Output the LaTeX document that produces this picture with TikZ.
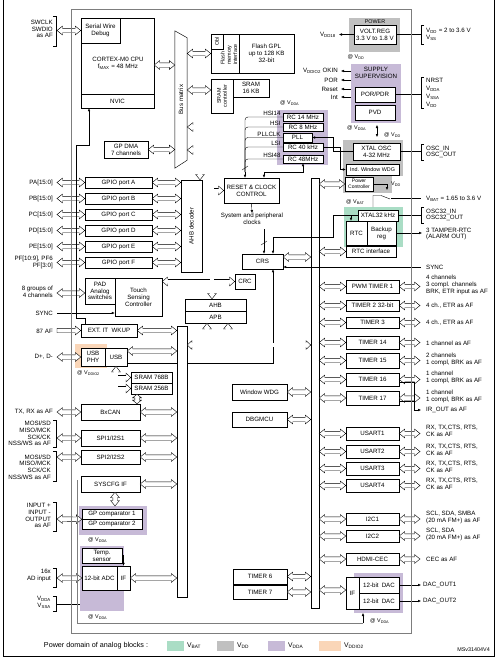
\documentclass[tikz,border=0pt]{standalone}
\usepackage{fontspec}
\setmainfont{Liberation Sans}
\usetikzlibrary{positioning,calc,arrows.meta}

\definecolor{vbat}{RGB}{170,221,197}
\definecolor{vdd}{RGB}{192,192,192}
\definecolor{vdda}{RGB}{199,186,215}
\definecolor{vddio}{RGB}{250,214,184}
\definecolor{chipline}{RGB}{125,125,125}

\newcommand{\busS}{2.2pt}
\newcommand{\busW}{4.4pt}
\newcommand{\busL}{5.5pt}
\newcommand{\Vs}[1]{V\textsubscript{#1}}

\tikzset{
blk/.style={draw, fill=white, inner sep=0pt, line width=.45pt, align=center},
pin/.style={anchor=east, inner sep=0pt, align=right},
pinr/.style={anchor=west, inner sep=0pt, align=left},
note/.style={anchor=west, inner sep=0pt, font=\fontsize{5.4}{6}\selectfont},
sm/.style={font=\fontsize{5.4}{6.2}\selectfont},
arr/.style={line width=.4pt, -{Latex[length=3pt,width=2.6pt]}},
arr2/.style={line width=.4pt, {Latex[length=3pt,width=2.6pt]}-{Latex[length=3pt,width=2.6pt]}},
dline/.style={draw=black, line width=.4pt, double=white, double distance=4pt},
dbus/.style={draw=black, fill=white, line width=.4pt, to path={
  let \p1=($(\tikztostart)!\busL!(\tikztotarget)$),
      \p2=($(\tikztotarget)!\busL!(\tikztostart)$) in
  -- ($(\p1)!\busW!90:(\tikztotarget)$) -- ($(\p1)!\busS!90:(\tikztotarget)$)
  -- ($(\p2)!\busS!-90:(\tikztostart)$) -- ($(\p2)!\busW!-90:(\tikztostart)$)
  -- (\tikztotarget)
  -- ($(\p2)!\busW!90:(\tikztostart)$) -- ($(\p2)!\busS!90:(\tikztostart)$)
  -- ($(\p1)!\busS!-90:(\tikztotarget)$) -- ($(\p1)!\busW!-90:(\tikztotarget)$)
  -- cycle}},
sbus/.style={draw=black, fill=white, line width=.4pt, to path={
  let \p2=($(\tikztotarget)!\busL!(\tikztostart)$) in
  -- ($(\tikztostart)!\busS!90:(\tikztotarget)$)
  -- ($(\p2)!\busS!-90:(\tikztostart)$) -- ($(\p2)!\busW!-90:(\tikztostart)$)
  -- (\tikztotarget)
  -- ($(\p2)!\busW!90:(\tikztostart)$) -- ($(\p2)!\busS!90:(\tikztostart)$)
  -- ($(\tikztostart)!\busS!-90:(\tikztotarget)$) -- cycle}},
bushead/.style={draw=black, fill=white, line width=.4pt, to path={
  ($(\tikztostart)!\busS!90:(\tikztotarget)$) -- ($(\tikztostart)!\busW!90:(\tikztotarget)$)
  -- (\tikztotarget)
  -- ($(\tikztostart)!\busW!-90:(\tikztotarget)$) -- ($(\tikztostart)!\busS!-90:(\tikztotarget)$)}}
}

\begin{document}
\begin{tikzpicture}[x=1pt, y=-1pt, font=\fontsize{6.2}{6.8}\selectfont,
  wh/.style 2 args={minimum width=#1pt, minimum height=#2pt}]
\useasboundingbox (0,0) rectangle (499,662);

% power domains
\fill[vdd] (349,18) rectangle (400,52);
\fill[vdd] (343,140) rectangle (403,176);
\fill[vdd] (343,176) rectangle (392,193);
\fill[vdda] (351,64) rectangle (401,123);
\fill[vdda] (277,110) rectangle (328,165);
\fill[vbat] (344,207) rectangle (403,247);
\fill[vddio] (75,344) rectangle (107,368);
\fill[vdda] (79,506) rectangle (147,535);
\fill[vdda] (80,546) rectangle (124,611);
\fill[vdda] (354,573) rectangle (403,613);

% core, bus matrix and memories
\node[blk, wh={73}{76}] (cpu) at (117.5,56) {};
\node[blk, wh={39}{25}] (swd) at (100.5,30.5) {Serial Wire\\Debug};
\node[align=center, inner sep=0pt] (cputxt) at (118,63.5) {CORTEX-M0 CPU\\f\textsubscript{MAX} = 48 MHz};
\node[blk, wh={73}{14}] (nvic) at (117.5,101) {NVIC};
\node[blk, wh={44}{17}] (dma) at (126,149.5) {GP DMA\\7 channels};

\node[inner sep=0pt, wh={12}{137}] (bm) at (181,99.5) {};
\draw[fill=white, line width=.45pt] (bm.north west) -- ([yshift=-7pt]bm.north east)
  -- ([yshift=8pt]bm.south east) -- (bm.south west) -- cycle;
\node[rotate=90] at (bm) {Bus matrix};

\node[blk, wh={28}{39}] (fif) at (225,53.5) {};
\node[blk, wh={12}{15}] (obl) at (217,41.5) {};
\node[rotate=90, sm] at (obl) {Obl};
\node[rotate=90, sm, align=left] at (229,54.5) {Flash\\memory\\interface};
\node[blk, wh={55}{39}] (flash) at (266.5,53.5) {Flash GPL\\up to 128 KB\\32-bit};
\node[blk, wh={22}{34}] (sramc) at (222,96) {};
\node[rotate=90, sm, align=center] at (sramc) {SRAM\\controller};
\node[blk, wh={36}{18}] (sram) at (251,88) {SRAM\\16 KB};

\draw[dbus] ([yshift=-9pt]cpu.east) to ([yshift=-9pt]cpu.east -| bm.west);
\draw[dbus] (dma.east) to (dma.east -| bm.west);
\draw[dbus] (bm.east |- fif.west) to (fif.west);
\draw[dbus] ([yshift=6pt]bm.east |- sramc.west) to ([yshift=6pt]sramc.west);

% AHB side
\node[blk, wh={21}{92}] (ahbdec) at (191.5,226) {};
\node[rotate=90] at (ahbdec) {AHB decoder};
\node[blk, wh={55}{25}] (rcc) at (251.5,190.5) {RESET \& CLOCK\\CONTROL};
\node[align=center, inner sep=0pt] (clk) at (252,219) {System and peripheral\\clocks};
\node[blk, wh={41}{15}] (crs) at (262.5,261.5) {CRS};
\node[blk, wh={20}{15}] (crc) at (245,281.5) {CRC};
\node[blk, wh={61}{12}] (ahb) at (215.5,305) {AHB};
\node[blk, wh={61}{12}] (apb) at (215.5,317) {APB};

% clock sources
\node[blk, wh={40}{8}] (rc14) at (303,117) {RC 14 MHz};
\node[blk, wh={40}{8}] (rc8) at (303,127) {RC 8 MHz};
\node[blk, wh={29}{9}] (pll) at (297.5,137.5) {PLL};
\node[blk, wh={40}{8}] (rc40) at (303,147) {RC 40 kHz};
\node[blk, wh={40}{8}] (rc48) at (303,159) {RC 48MHz};
\node[note] at (280,103) {@ \Vs{DDA}};
\foreach \b/\t in {rc14/HSI14, rc8/HSI, pll/PLLCLK, rc40/LSI, rc48/HSI48}{
  \draw[rounded corners=3pt] (\b.west) -| (245,172);
  \node[anchor=south east, inner sep=0pt] at ([xshift=-2pt, yshift=.8pt]\b.west) {\t};
}
\draw[arr] (245,172) -- ([xshift=-6.5pt]rcc.north);
\draw (242,170) -- (248,166);
\draw[arr2] (rc48.south) -- (303,172) -| ([xshift=12.5pt]rcc.north);
\draw[arr] (rcc.south) -- (clk.north);

% power, supervision, oscillators
\node[blk, wh={42}{19}] (vreg) at (375,34.5) {VOLT.REG\\3.3 V to 1.8 V};
\node[inner sep=0pt, sm] at (375,21.5) {POWER};
\node[note, anchor=center] at (356,57) {@ \Vs{DD}};
\node[pin] (vdd18) at (336,34.5) {\Vs{DD18}};
\draw[arr] (vreg.west) -- ([xshift=3pt]vdd18.east);
\draw (vreg.east) -- (421,34.5);
\node[pinr] at (426,34) {\Vs{DD} = 2 to 3.6 V\\\Vs{SS}};

\node[align=center, inner sep=0pt] at (376,72.5) {SUPPLY\\SUPERVISION};
\node[blk, wh={40}{15}] (por) at (375,94.5) {POR/PDR};
\node[blk, wh={40}{15}] (pvd) at (375,112.5) {PVD};
\coordinate (supv) at (351,64);
\foreach \yc/\t in {71/\Vs{DDIO2} OKIN, 80/POR, 89/Reset, 97/Int}{
  \draw[arr] (supv |- 0,\yc) -- (341,\yc);
  \node[pin] at (338,\yc) {\t};
}
\draw (por.east) -- (421,94.5);
\node[pinr, font=\fontsize{6.2}{8}\selectfont] at (426,93) {NRST\\\Vs{DDA}\\\Vs{SSA}\\\Vs{DD}};
\node[note] at (347,128) {@ \Vs{DDA}};
\draw[arr2] (377,125) -- (377,137);
\node[note] at (384,135) {@ \Vs{DD}};

\node[blk, wh={47}{17}] (xtalosc) at (376.5,151.5) {XTAL OSC\\4-32 MHz};
\draw (xtalosc.east) -- (421,151.5);
\node[pinr] at (426,152) {OSC\_IN\\OSC\_OUT};
\node[blk, wh={53}{11}, sm] (iwdg) at (372.5,169.5) {Ind. Window WDG};
\node[blk, wh={28}{14}, font=\fontsize{5}{5.6}\selectfont] (pwrctl) at (359,184) {Power\\Controller};
\draw[arr] (rc40.east) -- (340,147) |- (iwdg.west);
\draw[arr] (xtalosc.west) -- (333,151.5) |- (pll.east);

\draw[arr] (pwrctl.east) -| (387,190);
\node[note] at (391,184) {\Vs{DD}};
\node[note] at (346,202) {@ \Vs{BAT}};
\draw (373,207) -- (373,195.5) -- (381,195.5) -- (390,199);
\draw (391,198.5) -- (421,198.5);
\node[pinr] at (426,198.5) {\Vs{BAT} = 1.65 to 3.6 V};

\node[blk, wh={40}{11}] (xtal32) at (378,215.5) {XTAL32 kHz};
\node[blk, wh={21}{24}] (rtc) at (356.5,233) {RTC};
\node[blk, wh={29}{24}] (bkp) at (381.5,233) {Backup\\reg};
\node[blk, wh={50}{11}] (rtcif) at (371,251.5) {RTC interface};
\draw (xtal32.east) -- (421,215.5);
\node[pinr] at (426,215) {OSC32\_IN\\OSC32\_OUT};
\draw[arr] (bkp.east) -- (422,233);
\node[pinr] at (426,234) {3 TAMPER-RTC\\(ALARM OUT)};
\draw[arr] (xtal32.west) -| ([xshift=-5.5pt]rtc.north);

% left peripherals
\node[blk, wh={30}{26}] (pad) at (100,291) {PAD\\Analog\\switches};
\node[blk, wh={47}{38}] (tsc) at (138.5,297) {Touch\\Sensing\\Controller};
\node[blk, wh={56}{13}] (exti) at (109,330.5) {EXT. IT\ \ WKUP};
\node[blk, wh={24}{18}] (usbphy) at (93,357) {USB\\PHY};
\node[blk, wh={22}{18}] (usb) at (116,357) {USB};
\node[blk, wh={41}{11}] (sramusb) at (151.5,377.5) {SRAM 768B};
\node[blk, wh={41}{11}] (sramcan) at (151.5,388.5) {SRAM 256B};
\node[blk, wh={59}{16}] (can) at (110.5,412) {BxCAN};
\node[blk, wh={59}{16}] (spia) at (110.5,438) {SPI1/I2S1};
\node[blk, wh={59}{14}] (spib) at (110.5,457) {SPI2/I2S2};
\node[blk, wh={59}{16}] (syscfg) at (110.5,484) {SYSCFG IF};
\node[blk, wh={60}{10}] (compa) at (112,514) {GP comparator 1};
\node[blk, wh={60}{10}] (compb) at (112,524) {GP comparator 2};
\node[blk, wh={40}{15}] (temp) at (102,555.5) {Temp.\\sensor};
\node[blk, wh={35}{24}] (adc) at (99.5,578) {12-bit ADC};
\node[blk, wh={13}{24}] (adcif) at (123.5,578) {IF};
\node[note] at (77,373) {@ \Vs{DDIO2}};
\node[note] at (88,540) {@ \Vs{DDA}};
\node[note] at (88,617) {@ \Vs{DDA}};

% USB start of frame to CRS, under the bus
\draw[arr] ([yshift=-6pt]usb.east) -| ([xshift=10.5pt]crs.south);

% buses
\node[blk, wh={10}{271}] (lbar) at (182,461.5) {};
\node[blk, wh={8}{430}] (rbar) at (315,393) {};

\foreach \g/\yc in {A/182.5, B/198.5, C/214.5, D/230.5, E/246.5, F/262.5}{
  \node[blk, wh={67}{11}] (gpio\g) at (118.5,\yc) {GPIO port \g};
  \draw[dbus] (57,\yc) to (gpio\g.west);
  \draw[dbus] (gpio\g.east) to (gpio\g.east -| ahbdec.west);
}
\foreach \g/\yc in {A/182.5, B/198.5, C/214.5, D/230.5, E/246.5}
  \node[pin] at (53,\yc) {P\g[15:0]};
\node[pin] at (53,262.5) {PF[10:9], PF6\\PF[3:0]};

\draw[dline] (193,127) -| (200,174.5);
\draw[bushead] (193,127) to (bm.east |- 0,127);
\draw[bushead] (200,174.5) to ([xshift=8.5pt]ahbdec.north);
\draw[dline] (193,150) -| (212,293.5) (212,190.5) -- (218.5,190.5)
  (212,281.5) -- (167.5,281.5) (212,281.5) -- (229.5,281.5);
\draw[bushead] (193,150) to (bm.east |- 0,150);
\draw[bushead] (212,293.5) to ([xshift=-3.5pt]ahb.north);
\draw[bushead] (218.5,190.5) to (rcc.west);
\draw[bushead] (167.5,281.5) to (tsc.east |- 0,281.5);
\draw[bushead] (229.5,281.5) to (crc.west);

\draw[dline] (207,329) |- (192,345) (228,329) |- (306,345);
\draw[bushead] (207,329) to ([xshift=-8.5pt]apb.south);
\draw[bushead] (192,345) to (lbar.east |- 0,345);
\draw[bushead] (228,329) to ([xshift=12.5pt]apb.south);
\draw[bushead] (306,345) to (rbar.west |- 0,345);

\draw[dline] (116,372) |- (126,388.5) (116,377.5) -- (126,377.5);
\draw[bushead] (116,372) to (usb.south);
\draw[bushead] (126,377.5) to (sramusb.west);
\draw[bushead] (126,388.5) to (sramcan.west);
\begin{scope}
\renewcommand{\busL}{3.6pt}
\draw[dbus] ([xshift=-14.5pt]sramcan.south) to ([xshift=-14.5pt]sramcan.south |- can.north);
\end{scope}

\node[pin] at (53,29) {SWCLK\\SWDIO\\as AF};
\draw[dbus] (57,30.5) to (swd.west);
\node[pin] at (53,292) {8 groups of\\4 channels};
\draw[dbus] (57,293) to (pad.west |- 0,293);
\node[pin] at (53,313) {SYNC};
\draw[arr] (57,313) -- (tsc.west |- 0,313);
\node[pin] at (53,331) {87 AF};
\draw[sbus] (57,330.5) to (exti.west);
\node[pin] at (53,357) {D+, D-};
\draw[dbus] (57,357) to (usbphy.west);
\draw[dbus] ([yshift=6pt]usb.east) to ([yshift=6pt]usb.east -| lbar.west);
\node[pin] at (53,412) {TX, RX as AF};
\draw[dbus] (57,412) to (can.west);
\node[pin] at (51,433.5) {MOSI/SD\\MISO/MCK\\SCK/CK\\NSS/WS as AF};
\draw[dbus] (57,438) to (spia.west);
\node[pin] at (51,467) {MOSI/SD\\MISO/MCK\\SCK/CK\\NSS/WS as AF};
\draw[dbus] (57,457) to (spib.west);
\foreach \b in {exti,can,spia,spib,syscfg}
  \draw[dbus] (\b.east) to (\b.east -| lbar.west);
\draw[dbus] ([xshift=4.5pt]syscfg.south) to ([xshift=4.5pt]syscfg.south |- 0,506);
\node[pin] at (51,515.5) {INPUT +\\INPUT -\\OUTPUT\\as AF};
\draw[dbus] (57,519) to (compa.south west);
\node[pin] at (51,575.5) {16x\\AD input};
\draw[dbus] (57,578) to (adc.west);
\draw[dbus] (adcif.east) to (adcif.east -| lbar.west);
\draw[arr] (temp.east) -| (adcif.north);
\node[pin] at (51,602) {\Vs{DDA}\\\Vs{SSA}};
\draw (56,604) -- (80,604);
\foreach \ya/\yb in {16/46, 420/447, 451/481, 502/531, 568/587, 596/611}
  \draw (53,\ya) -- (56,\ya) -- (56,\yb) -- (53,\yb);
\foreach \ya/\yb in {25/44, 77/108, 144/160, 207/223}
  \draw (424,\ya) -- (421,\ya) -- (421,\yb) -- (424,\yb);

% clocks towards CRS
\draw[arr] (xtal32.west) -- (333,215.5) |- (273,237) -- ([xshift=10.5pt]crs.north);
\draw[arr] (264,229) -- ([xshift=1.5pt]crs.north);
\draw (261,245) -- (267,241);
\draw[arr] (421,267) -- ([yshift=-5.5pt]crs.east);
\node[pinr] at (426,267) {SYNC};
\draw[dbus] ([yshift=4.5pt]crs.east) to ([yshift=4.5pt]crs.east -| rbar.west);

% APB peripherals
\node[blk, wh={55}{16}] (wwdg) at (259.5,392) {Window WDG};
\node[blk, wh={55}{15}] (dbg) at (259.5,419.5) {DBGMCU};
\node[blk, wh={54}{15}] (tim6) at (260,576.5) {TIMER 6};
\node[blk, wh={54}{14}] (tim7) at (260,592) {TIMER 7};
\foreach \b in {wwdg,dbg,tim6,tim7}
  \draw[dbus] (\b.east) to (\b.east -| rbar.west);
\draw[dbus] (rbar.east |- pwrctl.west) to (pwrctl.west);
\draw[dbus] (rbar.east |- rtcif.west) to (rtcif.west);

\foreach \nm/\yc/\hh/\tt/\ly/\lb in {
  tima/286.5/13/PWM TIMER 1/285/{4 channels\\3 compl. channels\\BRK, ETR input as AF},
  timb/305.5/11/TIMER 2 32-bit/305.5/{4 ch., ETR as AF},
  timc/322.5/11/TIMER 3/323/{4 ch., ETR as AF},
  timn/342.5/13/TIMER 14/343/{1 channel as AF},
  timo/360.5/15/TIMER 15/359.5/{2 channels\\1 compl, BRK as AF},
  timp/379.5/13/TIMER 16/377.5/{1 channel\\1 compl, BRK as AF},
  timq/398/14/TIMER 17/396.5/{1 channel\\1 compl, BRK as AF},
  usarta/433.5/13/USART1/430.5/{RX, TX,CTS, RTS,\\CK as AF},
  usartb/451.5/13/USART2/449.5/{RX, TX,CTS, RTS,\\CK as AF},
  usartc/468.5/13/USART3/466.5/{RX, TX,CTS, RTS,\\CK as AF},
  usartd/485.5/13/USART4/483.5/{RX, TX,CTS, RTS,\\CK as AF},
  i2ca/519/12/I2C1/517.5/{SCL, SDA, SMBA\\(20 mA FM+) as AF},
  i2cb/536/12/I2C2/534.5/{SCL, SDA\\(20 mA FM+) as AF},
  cec/559/12/HDMI-CEC/559/{CEC as AF}}{
  \node[blk, wh={53}{\hh}] (\nm) at (372.5,\yc) {\tt};
  \draw[dbus] (rbar.east |- \nm.west) to (\nm.west);
  \draw[dbus] (\nm.east) to (420,\yc);
  \node[pinr] at (426,\ly) {\lb};
}
\draw ([yshift=-3pt]timp.east) -- (414,382.5) -- (414,410);
\draw ([yshift=-3pt]timq.east) -- (414,401);
\draw[arr] (414,410) -- (421,410);
\node[pinr] at (426,410) {IR\_OUT as AF};

\node[blk, wh={13}{32}] (dacif) at (352.5,593) {IF};
\node[blk, wh={40}{16}] (daca) at (379,585) {12-bit\enspace DAC};
\node[blk, wh={40}{16}] (dacb) at (379,601) {12-bit\enspace DAC};
\draw[dbus] ([yshift=3pt]rbar.east |- dacif.west) to ([yshift=3pt]dacif.west);
\draw[arr] (daca.east) -- (421,585);
\node[pinr] at (423,585) {DAC\_OUT1};
\draw[arr] (dacb.east) -- (421,601);
\node[pinr] at (423,601) {DAC\_OUT2};
\node[note] at (370,621) {@ \Vs{DDA}};

% interrupt line to the NVIC
\draw[arr] ([xshift=-24pt]exti.north) |- (76,318) |- (89,145) -- ([xshift=-28.5pt]nvic.south);

% chip outline and analog supply
\draw[chipline, line width=1pt] (71,9) rectangle (411,633);
\draw[chipline, line width=.8pt] (77,480) -- (77,623) -- (363,623);
\draw[arr] (363,623) -- (363,613);

% legend
\node[font=\fontsize{7.2}{8}\selectfont, inner sep=0pt] at (96,645.5) {Power domain of analog blocks :};
\foreach \c/\xc/\w/\t in {vbat/167/17/\Vs{BAT}, vdd/217/17/\Vs{DD}, vdda/268/17/\Vs{DDA}, vddio/319/22/\Vs{DDIO2}}{
  \fill[\c] (\xc,641) rectangle ++(\w,10);
  \node[anchor=west, inner sep=0pt, font=\fontsize{6.8}{8}\selectfont] at (\xc+\w+3,646) {\t};
}
\node[anchor=east, inner sep=0pt, sm] at (490,650) {MSv31404V4};
\draw[line width=.6pt] (3,0) -- (3,656) -- (494,656) -- (494,0);
\end{tikzpicture}
\end{document}
